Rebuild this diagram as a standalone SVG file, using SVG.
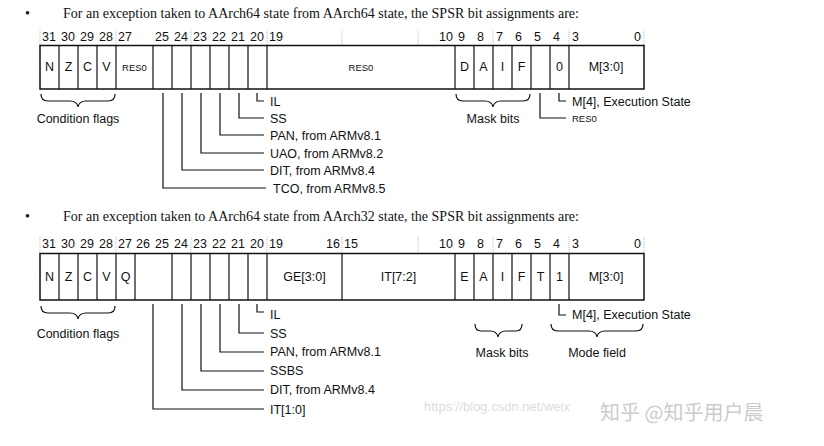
<svg xmlns="http://www.w3.org/2000/svg" width="824" height="446" viewBox="0 0 824 446">
<style>
.t{font-family:"Liberation Serif",serif;font-size:14px;fill:#111}
.s{font-family:"Liberation Sans",Arial,sans-serif;font-size:12.5px;fill:#111}
.c{text-anchor:middle}
.r{text-anchor:end}
.sm{font-size:9.5px}
.box{fill:#fff;stroke:#111;stroke-width:1.5}
.ln{fill:none;stroke:#111;stroke-width:1.2}
.tk{stroke:#bbb;stroke-width:1;stroke-dasharray:1 1}
</style>
<rect width="824" height="446" fill="#fff"/>
<text class="t" x="25" y="18">•</text>
<text class="t" x="63" y="18">For an exception taken to AArch64 state from AArch64 state, the SPSR bit assignments are:</text>
<text class="t" x="25" y="221">•</text>
<text class="t" x="63" y="221">For an exception taken to AArch64 state from AArch32 state, the SPSR bit assignments are:</text>

<g id="reg1">
<g class="tk"><line x1="40" y1="30" x2="40" y2="45"/><line x1="116" y1="30" x2="116" y2="45"/><line x1="191" y1="30" x2="191" y2="45"/><line x1="267" y1="30" x2="267" y2="45"/><line x1="342" y1="30" x2="342" y2="45"/><line x1="418" y1="30" x2="418" y2="45"/><line x1="493" y1="30" x2="493" y2="45"/><line x1="569" y1="30" x2="569" y2="45"/><line x1="644" y1="30" x2="644" y2="45"/></g>
<rect class="box" x="40" y="45.5" width="604" height="43.5"/>
<path class="ln" d="M59 45.5V89M78 45.5V89M97 45.5V89M116 45.5V89M153 45.5V89M172 45.5V89M191 45.5V89M210 45.5V89M229 45.5V89M248 45.5V89M267 45.5V89M455 45.5V89M474 45.5V89M493 45.5V89M512 45.5V89M531 45.5V89M550 45.5V89M569 45.5V89"/>
<g class="s">
<text x="42" y="41">31</text><text x="61" y="41">30</text><text x="80" y="41">29</text><text x="99" y="41">28</text><text x="118" y="41">27</text><text x="155" y="41">25</text><text x="174" y="41">24</text><text x="193" y="41">23</text><text x="212" y="41">22</text><text x="231" y="41">21</text><text x="250" y="41">20</text><text x="269" y="41">19</text><text x="453" y="41" class="r">10</text><text x="458" y="41">9</text><text x="477" y="41">8</text><text x="496" y="41">7</text><text x="515" y="41">6</text><text x="534" y="41">5</text><text x="553" y="41">4</text><text x="572" y="41">3</text><text x="641" y="41" class="r">0</text>
<text class="c" x="49.5" y="71">N</text><text class="c" x="68.5" y="71">Z</text><text class="c" x="87.5" y="71">C</text><text class="c" x="106.5" y="71">V</text><text class="c sm" x="134.5" y="71">RES0</text><text class="c sm" x="361" y="71">RES0</text>
<text class="c" x="464.5" y="71">D</text><text class="c" x="483.5" y="71">A</text><text class="c" x="502.5" y="71">I</text><text class="c" x="521.5" y="71">F</text><text class="c" x="559.5" y="71">0</text><text class="c" x="606" y="71">M[3:0]</text>
</g>
</g>
<g id="reg2">
<g class="tk"><line x1="40" y1="237" x2="40" y2="253"/><line x1="116" y1="237" x2="116" y2="253"/><line x1="191" y1="237" x2="191" y2="253"/><line x1="267" y1="237" x2="267" y2="253"/><line x1="342" y1="237" x2="342" y2="253"/><line x1="418" y1="237" x2="418" y2="253"/><line x1="493" y1="237" x2="493" y2="253"/><line x1="569" y1="237" x2="569" y2="253"/><line x1="644" y1="237" x2="644" y2="253"/></g>
<rect class="box" x="40" y="253.5" width="604" height="46.5"/>
<path class="ln" d="M59 253.5V300M78 253.5V300M97 253.5V300M116 253.5V300M135 253.5V300M172 253.5V300M191 253.5V300M210 253.5V300M229 253.5V300M248 253.5V300M267 253.5V300M342 253.5V300M455 253.5V300M474 253.5V300M493 253.5V300M512 253.5V300M531 253.5V300M550 253.5V300M569 253.5V300"/>
<g class="s">
<text x="42" y="248">31</text><text x="61" y="248">30</text><text x="80" y="248">29</text><text x="99" y="248">28</text><text x="118" y="248">27</text><text x="136" y="248">26</text><text x="155" y="248">25</text><text x="174" y="248">24</text><text x="193" y="248">23</text><text x="212" y="248">22</text><text x="231" y="248">21</text><text x="250" y="248">20</text><text x="269" y="248">19</text><text x="340" y="248" class="r">16</text><text x="344" y="248">15</text><text x="453" y="248" class="r">10</text><text x="458" y="248">9</text><text x="477" y="248">8</text><text x="496" y="248">7</text><text x="515" y="248">6</text><text x="534" y="248">5</text><text x="553" y="248">4</text><text x="572" y="248">3</text><text x="641" y="248" class="r">0</text>
<text class="c" x="49.5" y="281">N</text><text class="c" x="68.5" y="281">Z</text><text class="c" x="87.5" y="281">C</text><text class="c" x="106.5" y="281">V</text><text class="c" x="125.5" y="281">Q</text><text class="c" x="304.5" y="281">GE[3:0]</text><text class="c" x="398.5" y="281">IT[7:2]</text>
<text class="c" x="464.5" y="281">E</text><text class="c" x="483.5" y="281">A</text><text class="c" x="502.5" y="281">I</text><text class="c" x="521.5" y="281">F</text><text class="c" x="540.5" y="281">T</text><text class="c" x="559.5" y="281">1</text><text class="c" x="606" y="281">M[3:0]</text>
</g>
</g>
<g id="connectors">
<path class="ln" d="M257 93V101H264M239 93V118H264M220 93V135H264M201 93V153H264M182 93V170H264M163 93V188H266M559 93V101H566M540 93V118H566"/>
<path class="ln" d="M41 94q0 7 7 7h22q7 0 8 6q1-6 8-6h22q7 0 7-7M456 94q0 7 7 7h22q7 0 8 6q1-6 8-6h22q7 0 7-7"/>
<path class="ln" d="M257 304V312H264M239 304V333H264M220 304V352H264M201 304V371H264M182 304V390H264M153 304V409H264M559 304V315H566"/>
<path class="ln" d="M41 306q0 7 7 7h22q7 0 8 6q1-6 8-6h22q7 0 7-7M475 324q0 7 6 7h9q7 0 8 6q1-6 8-6h10q6 0 6-7M551 324q0 7 7 7h31q7 0 8 6q1-6 8-6h31q7 0 7-7"/>
</g>
<g id="labels" class="s">
<text x="270" y="106">IL</text><text x="270" y="123">SS</text><text x="270" y="140">PAN, from ARMv8.1</text><text x="270" y="158">UAO, from ARMv8.2</text><text x="270" y="175">DIT, from ARMv8.4</text><text x="273" y="193">TCO, from ARMv8.5</text>
<text class="c" x="78" y="123">Condition flags</text><text class="c" x="493" y="123">Mask bits</text>
<text x="572" y="106">M[4], Execution State</text><text x="572" y="122" class="sm">RES0</text>
<text x="270" y="319">IL</text><text x="270" y="338">SS</text><text x="270" y="356">PAN, from ARMv8.1</text><text x="270" y="375">SSBS</text><text x="270" y="394">DIT, from ARMv8.4</text><text x="270" y="414">IT[1:0]</text>
<text class="c" x="78" y="338">Condition flags</text><text x="572" y="319">M[4], Execution State</text>
<text class="c" x="502" y="357">Mask bits</text><text class="c" x="597" y="357">Mode field</text>
</g>
<g id="watermark">
<text x="424" y="411" font-family="'Liberation Sans',sans-serif" font-size="13" fill="#ddd">https://blog.csdn.net/weix</text>
<text x="600" y="420" font-family="'Noto Sans CJK SC',sans-serif" font-size="20" fill="#ccc">知乎 @知乎用户晨</text>
</g>
</svg>
